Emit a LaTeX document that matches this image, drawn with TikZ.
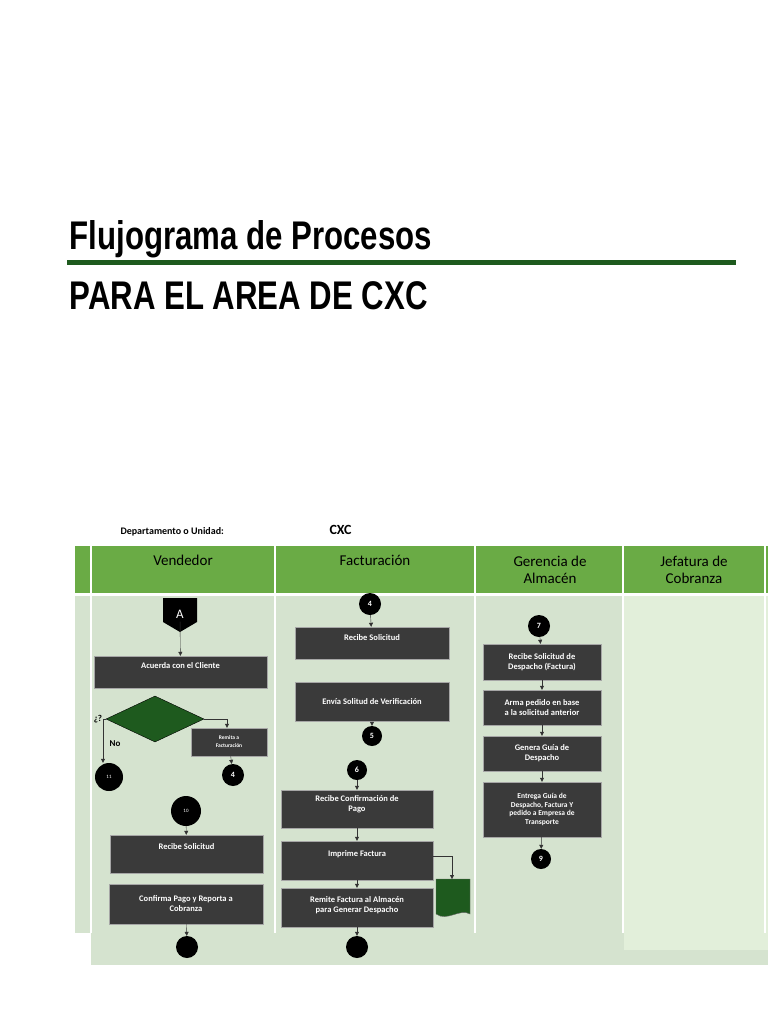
\documentclass[tikz,border=0pt]{standalone}
\usepackage{fontspec}
\setmainfont{Carlito}
\newfontfamily\titlefont[FakeStretch=0.78]{Liberation Sans}
\usetikzlibrary{arrows.meta,shapes.geometric}
\definecolor{hdr}{HTML}{6AAB45}
\definecolor{bodyg}{HTML}{D5E3CF}
\definecolor{bodyl}{HTML}{E2EFDA}
\definecolor{boxc}{HTML}{3A3A3A}
\definecolor{dgreen}{HTML}{1E5A1E}
\begin{document}
\begin{tikzpicture}[x=1pt,y=-1pt,
  pbox/.style={draw=gray!70,fill=boxc,text=white,font=\bfseries\fontsize{8.5}{10}\selectfont,align=center,inner sep=1pt},
  circ/.style={circle,fill=black,text=white,font=\bfseries\fontsize{8}{9}\selectfont,inner sep=0pt},
  hd/.style={font=\fontsize{15}{17}\selectfont,align=center},
  arr/.style={draw=black!80,-{Triangle[length=4pt,width=4pt]}}]
\useasboundingbox (0,0) rectangle (768,1024);
% title
\node[anchor=base west,font=\titlefont\bfseries\fontsize{40}{44}\selectfont] (t1) at (66,249) {Flujograma de Procesos};
\fill[dgreen] (67,260) rectangle (736,265);
\node[anchor=base west,font=\titlefont\bfseries\fontsize{40}{44}\selectfont] (t2) at (66,309) {PARA EL AREA DE CXC};
\node[anchor=base west,font=\bfseries\fontsize{10}{12}\selectfont] (dep) at (117,534) {Departamento o Unidad:};
\node[anchor=base west,font=\bfseries\fontsize{14}{16}\selectfont] (cxc) at (326,534) {CXC};
% backgrounds
\fill[bodyg] (91,933) rectangle (768,965);
\fill[bodyg] (75,596) rectangle (622,933);
\fill[bodyl] (624,596) rectangle (768,950);
\fill[hdr] (75,546) rectangle (768,593);
\foreach \x in {91,275,475,623,765} {\draw[white,line width=2pt] (\x,546) -- (\x,933);}
\draw[white,line width=2pt] (75,594.5) -- (768,594.5);
\node[hd] (h1) at (183,560) {Vendedor};
\node[hd] (h2) at (375,560) {Facturación};
\node[hd] (h3) at (550,570) {Gerencia de\\Almacén};
\node[hd] (h4) at (694,570) {Jefatura de\\Cobranza};
% Vendedor
\fill[black] (163,598) -- (197,598) -- (197,622) -- (180,632) -- (163,622) -- cycle;
\node[text=white,font=\fontsize{13}{14}\selectfont] (A) at (180,614) {A};
\node[pbox,minimum width=173pt,minimum height=32pt,text depth=12pt] (b1) at (180.5,672) {Acuerda con el Cliente};
\node[diamond,fill=dgreen,draw=black,minimum width=98pt,minimum height=46pt,inner sep=0pt,aspect=2.1] (d1) at (155,719) {};
\node[font=\bfseries\fontsize{9}{10}\selectfont] (q) at (98,719) {¿?};
\node[font=\bfseries\fontsize{9}{10}\selectfont] (no) at (115,744) {No};
\node[pbox,font=\bfseries\fontsize{5.5}{8}\selectfont,minimum width=76pt,minimum height=28pt] (b2) at (229,742) {Remita a\\Facturación};
\node[circ,minimum size=28pt,font=\fontsize{5}{6}\selectfont] (c11) at (109,777) {11};
\node[circ,minimum size=22pt] (c4a) at (233,775) {4};
\node[circ,minimum size=30pt,font=\fontsize{5}{6}\selectfont] (c10) at (186,811) {10};
\node[pbox,minimum width=153pt,minimum height=38pt,text depth=14pt] (b3) at (186.5,854) {Recibe Solicitud};
\node[pbox,minimum width=154pt,minimum height=40pt] (b4) at (186,904) {Confirma Pago y Reporta a\\Cobranza};
\node[circ,minimum size=22pt] (c12) at (187,947) {};
\draw[arr] (A) -- (b1);
\draw[arr] (d1.west) -- (103,719) -- (c11.north -| 103,0);
\draw[arr] (d1.east) -- (227,719) -- (b2.north -| 227,0);
\draw[arr] (b2) -- (c4a);
\draw[arr] (c10) -- (b3);
\draw[arr] (b4) -- (c12);
% Facturacion
\node[circ,minimum size=22pt] (c4b) at (370,604) {4};
\node[pbox,minimum width=154pt,minimum height=32pt,text depth=10pt] (f1) at (372,643) {Recibe Solicitud};
\node[pbox,minimum width=154pt,minimum height=39pt] (f2) at (372,702) {Envía Solitud de Verificación};
\node[circ,minimum size=20pt] (c5) at (372,736) {5};
\node[circ,minimum size=20pt] (c6) at (357,770) {6};
\node[pbox,minimum width=152pt,minimum height=38pt,text depth=10pt] (f3) at (357,809) {Recibe Confirmación de\\Pago};
\node[pbox,minimum width=152pt,minimum height=39pt,text depth=14pt] (f4) at (357,860.5) {Imprime Factura};
\node[pbox,minimum width=152pt,minimum height=39pt,text depth=6pt] (f5) at (357,907.5) {Remite Factura al Almacén\\para Generar Despacho};
\node[circ,minimum size=22pt] (c13) at (357,947) {};
\fill[dgreen,draw=black!60] (436,879) -- (470,879) -- (470,914) .. controls (460,908) and (447,922) .. (436,914) -- cycle;
\coordinate (doc) at (452,879);
\draw[arr] (c4b) -- (f1);
\draw[arr] (f2) -- (c5);
\draw[arr] (c6) -- (f3);
\draw[arr] (f3) -- (f4);
\draw[arr] (f4) -- (f5);
\draw[arr] (f5) -- (c13);
\draw[arr] (f4.east |- 0,856) -- (452,856) -- (doc);
% Gerencia
\node[circ,minimum size=22pt] (c7) at (539,626) {7};
\node[pbox,minimum width=118pt,minimum height=36pt] (g1) at (542,662) {Recibe Solicitud de\\Despacho (Factura)};
\node[pbox,minimum width=118pt,minimum height=35pt] (g2) at (542,707.5) {Arma pedido en base\\a la solicitud anterior};
\node[pbox,minimum width=118pt,minimum height=35pt] (g3) at (542,753.5) {Genera Guía de\\Despacho};
\node[pbox,minimum width=118pt,minimum height=55pt,font=\bfseries\fontsize{7.5}{8.5}\selectfont] (g4) at (542,809.5) {Entrega Guía de\\Despacho, Factura Y\\pedido a Empresa de\\Transporte};
\node[circ,minimum size=20pt] (c9) at (541,859) {9};
\draw[arr] (c7) -- (g1);
\draw[arr] (g1) -- (g2);
\draw[arr] (g2) -- (g3);
\draw[arr] (g3) -- (g4);
\draw[arr] (g4) -- (c9);
\end{tikzpicture}
\end{document}
